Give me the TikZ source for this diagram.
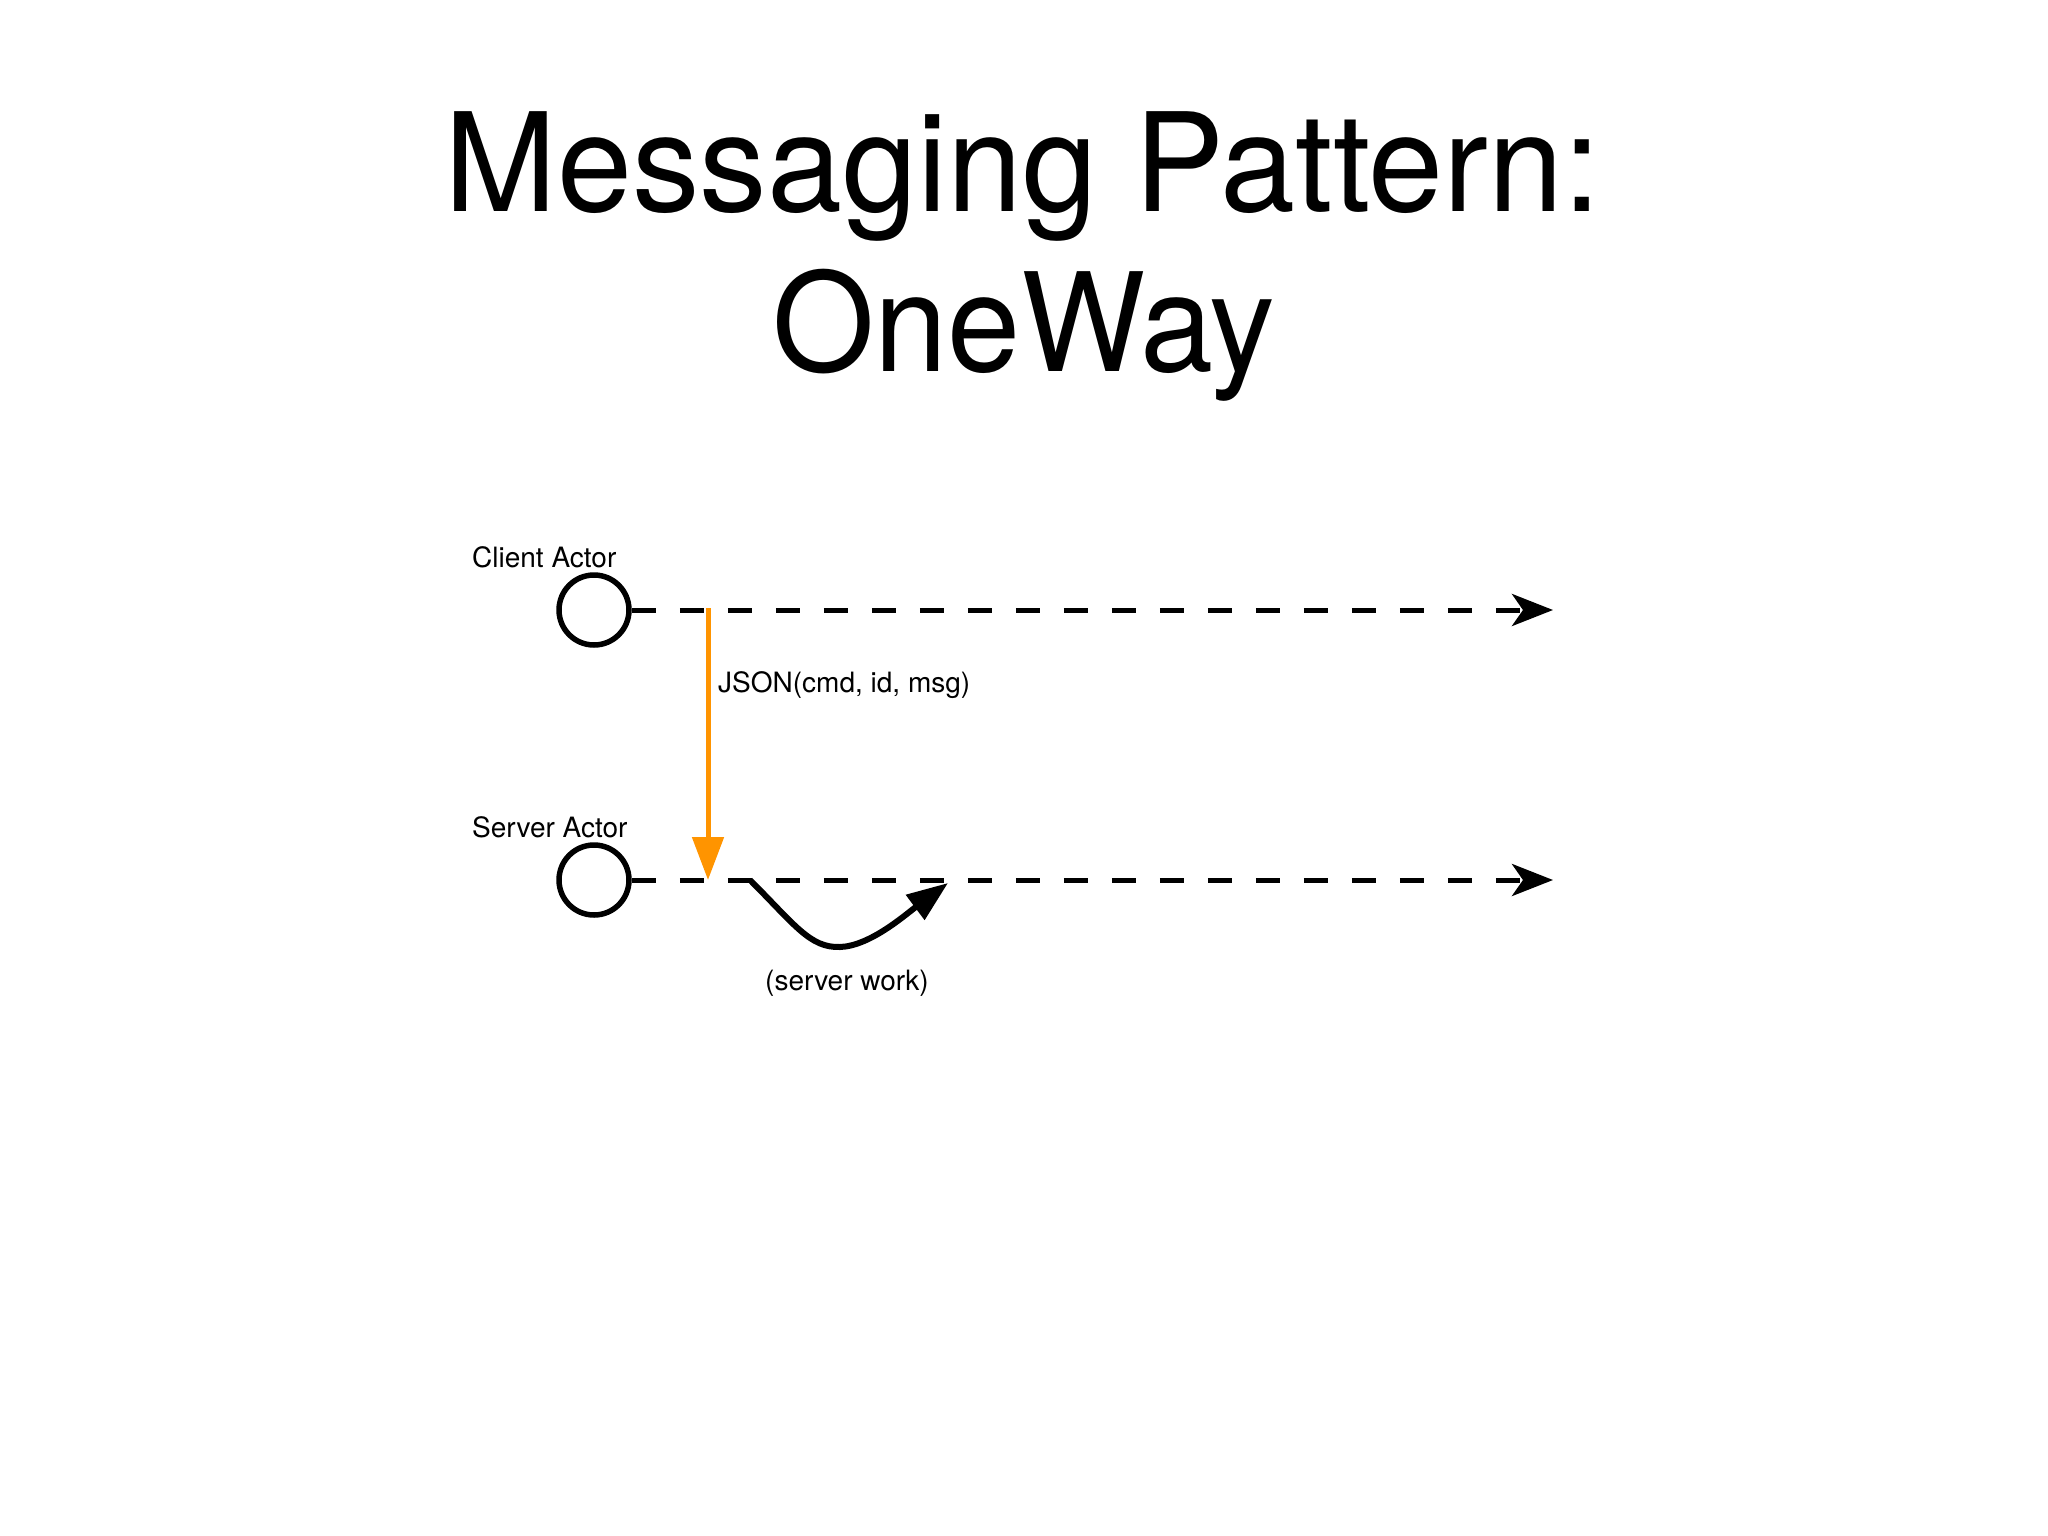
\documentclass[tikz,border=0pt]{standalone}
\usepackage{fontspec}
\usepackage{graphicx}
\setmainfont{TeX Gyre Heros}
\usetikzlibrary{arrows.meta}
\definecolor{msgorange}{RGB}{255,148,0}
\begin{document}
\begin{tikzpicture}[x=1pt,y=-1pt,
  lbl/.style={font=\fontsize{28}{34}\selectfont, inner sep=0pt, anchor=base west},
  ttl/.style={font=\fontsize{137}{160}\selectfont, inner sep=0pt, anchor=base},
  actor/.style={circle, draw, line width=5.5pt, minimum size=70pt, inner sep=0pt},
  lifeline/.style={line width=5pt, dash pattern=on 24pt off 24pt, -{Stealth[length=41pt,width=32pt,inset=11pt]}},
  msg/.style={draw=msgorange, line width=5pt, -{Triangle[length=43pt,width=31pt]}},
  workarrow/.style={line width=6pt, -{Triangle[length=41pt,width=30pt]}}
]
\useasboundingbox[fill=white] (0,0) rectangle (2048,1536);

\node[ttl] (title1) at (1023,211) {\scalebox{0.985}[1]{Messaging Pattern:}};
\node[ttl] (title2) at (1024,371) {\scalebox{0.96}[1]{OneWay}};

\node[lbl] (clientlbl) at (472,567) {Client Actor};
\node[actor] (client) at (594,610) {};
\coordinate (clientend) at (1553,610);
\draw[lifeline] (client.east) -- (clientend);

\node[lbl] (serverlbl) at (472,837) {Server Actor};
\node[actor] (server) at (594,880) {};
\coordinate (serverend) at (1553,880);
\draw[lifeline] (server.east) -- (serverend);

\coordinate (msgstart) at (708,608);
\coordinate (msgend) at (708,880);
\draw[msg] (msgstart) -- (msgend);
\node[lbl] (json) at (718,692) {JSON(cmd, id, msg)};

\coordinate (workstart) at (750,880);
\coordinate (workend) at (948,883);
\draw[workarrow] (workstart) .. controls (795,925) and (810,948) .. (840,947) .. controls (870,946) and (905,915) .. (workend);
\node[lbl] (work) at (765,990) {(server work)};
\end{tikzpicture}
\end{document}
